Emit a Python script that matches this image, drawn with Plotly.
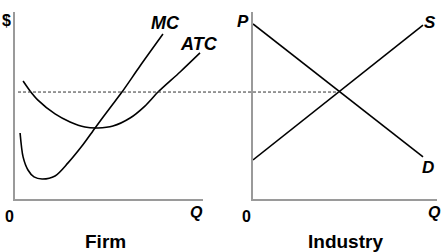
import plotly.graph_objects as go

# ---- data ----
mc_q = [0.27, 0.43, 0.69, 1.01, 1.44, 2.13, 2.82, 3.56, 4.26, 5.05, 5.69, 6.65, 7.87]
mc_p = [3.53, 2.25, 1.55, 1.18, 1.07, 1.23, 1.93, 2.83, 3.80, 4.87, 5.72, 7.11, 8.82]
atc_q = [0.43, 0.80, 1.22, 2.13, 2.93, 3.72, 4.41, 5.21, 6.12, 6.91, 7.61, 8.78, 9.84]
atc_p = [6.31, 5.78, 5.29, 4.55, 4.12, 3.85, 3.80, 3.90, 4.33, 4.97, 5.72, 6.79, 7.81]
demand_q = [0.0, 9.24]
demand_p = [9.36, 2.25]
supply_q = [0.0, 9.24]
supply_p = [2.09, 9.30]
market_price = 5.72
dash_start_q = 0.16

W, H = 442, 252
domL = [15 / W, 203 / W]
domR = [253 / W, 437 / W]
domY = [(H - 199) / H, (H - 12) / H]

fig = go.Figure()
line = dict(color="black", width=1.6)
fig.add_trace(go.Scatter(x=mc_q, y=mc_p, mode="lines", line=dict(**line, shape="spline", smoothing=0.8),
                         xaxis="x", yaxis="y", hoverinfo="skip"))
fig.add_trace(go.Scatter(x=atc_q, y=atc_p, mode="lines", line=dict(**line, shape="spline", smoothing=0.8),
                         xaxis="x", yaxis="y", hoverinfo="skip"))
fig.add_trace(go.Scatter(x=demand_q, y=demand_p, mode="lines", line=line, xaxis="x2", yaxis="y2", hoverinfo="skip"))
fig.add_trace(go.Scatter(x=supply_q, y=supply_p, mode="lines", line=line, xaxis="x2", yaxis="y2", hoverinfo="skip"))

# equilibrium quantity from S and D
sd = (demand_p[1] - demand_p[0]) / (demand_q[1] - demand_q[0])
ss = (supply_p[1] - supply_p[0]) / (supply_q[1] - supply_q[0])
q_eq = (supply_p[0] - demand_p[0]) / (sd - ss)

def px(xd, dom):
    return dom[0] + xd / 10 * (dom[1] - dom[0])

def py(yd):
    return domY[0] + yd / 10 * (domY[1] - domY[0])

fig.add_shape(type="line", xref="paper", yref="y", x0=px(dash_start_q, domL), x1=px(q_eq, domR),
              y0=market_price, y1=market_price,
              line=dict(color="#333333", width=1, dash="3px,2px"))

ax = dict(range=[0, 10], showgrid=False, zeroline=False, showticklabels=False, ticks="",
          showline=True, linecolor="#9a9a9a", linewidth=2, fixedrange=True)
fig.update_layout(
    width=W, height=H, margin=dict(l=0, r=0, t=0, b=0),
    paper_bgcolor="white", plot_bgcolor="white", showlegend=False,
    xaxis=dict(domain=domL, anchor="y", **ax),
    yaxis=dict(domain=domY, anchor="x", **ax),
    xaxis2=dict(domain=domR, anchor="y2", **ax),
    yaxis2=dict(domain=domY, anchor="x2", **ax),
)

F = "Liberation Sans, Arial, sans-serif"
def lab(text, x, y, dom, size, italic=False):
    t = f"<b><i>{text}</i></b>" if italic else f"<b>{text}</b>"
    fig.add_annotation(text=t, x=px(x, dom), y=py(y), xref="paper", yref="paper", showarrow=False,
                       xanchor="center", yanchor="middle", font=dict(family=F, size=size, color="black"))

lab("$", -0.43, 9.55, domL, 16)
lab("MC", 7.98, 9.40, domL, 18, True)
lab("ATC", 9.79, 8.27, domL, 18, True)
lab("0", -0.29, -0.93, domL, 16)
lab("Q", 9.63, -0.71, domL, 16, True)
lab("Firm", 4.84, -2.26, domL, 19)
lab("P", -0.54, 9.50, domR, 17, True)
lab("S", 9.62, 9.45, domR, 17, True)
lab("D", 9.51, 1.69, domR, 17, True)
lab("0", -0.33, -0.93, domR, 16)
lab("Q", 9.84, -0.71, domR, 16, True)
lab("Industry", 5.0, -2.26, domR, 19)

fig.write_html("out.html")
